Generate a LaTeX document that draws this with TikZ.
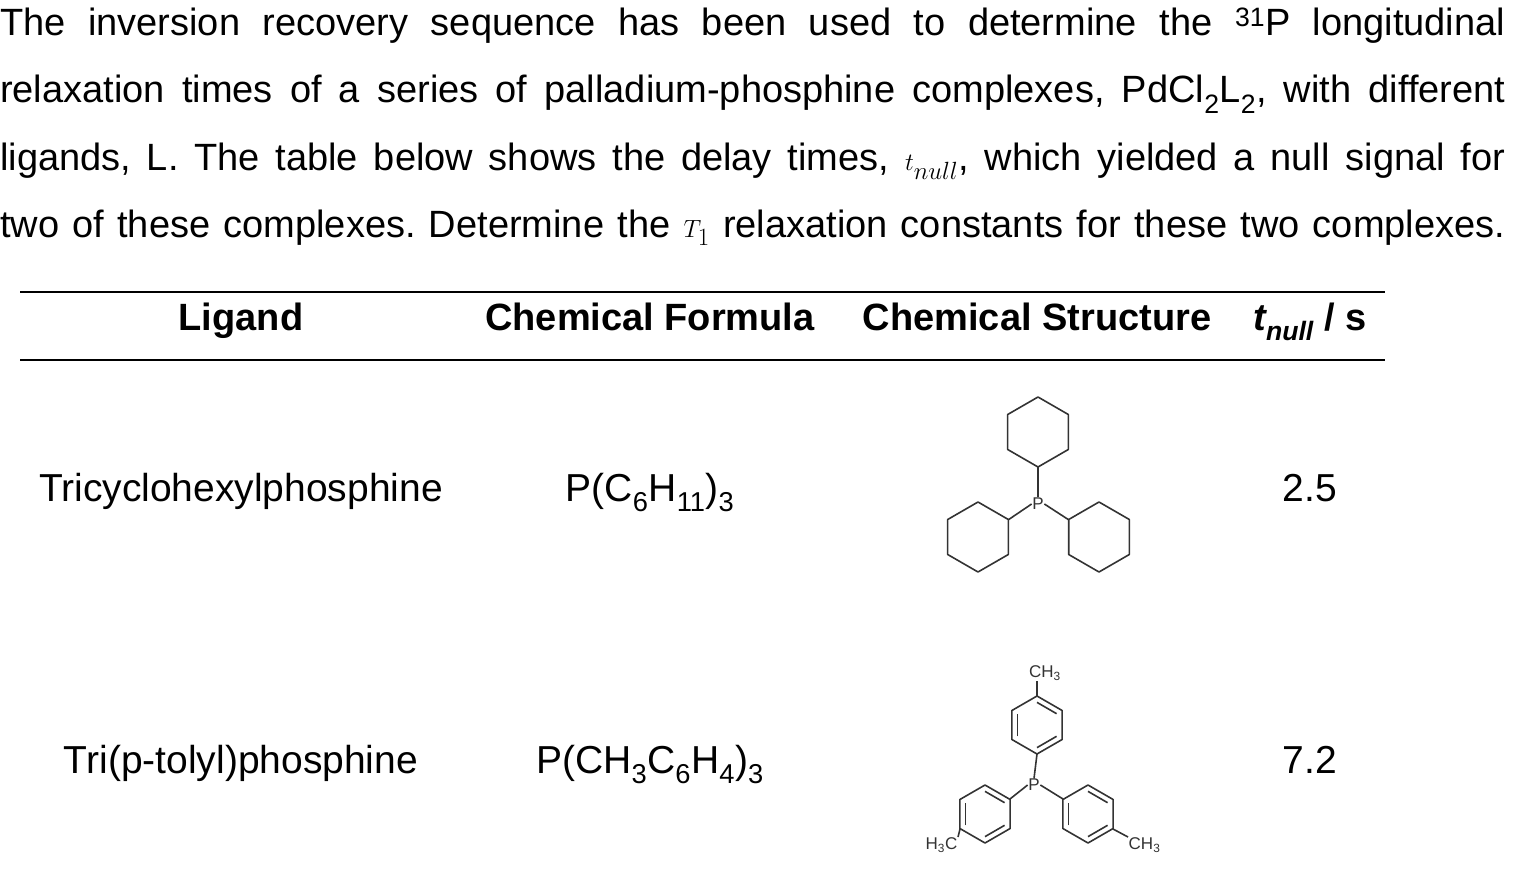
\documentclass[tikz,border=0pt]{standalone}
\usepackage{fontspec}
\setmainfont{Liberation Sans}
\usetikzlibrary{calc}
\frenchspacing
\newcommand{\cyhex}[3]{\draw[ring] ($(#1,#2)+(-90:#3)$) -- ($(#1,#2)+(-30:#3)$) -- ($(#1,#2)+(30:#3)$) -- ($(#1,#2)+(90:#3)$) -- ($(#1,#2)+(150:#3)$) -- ($(#1,#2)+(210:#3)$) -- cycle;}
\newcommand{\arhex}[3]{\cyhex{#1}{#2}{#3}
 \foreach \a/\b in {-90/-30,30/90,150/210}{
  \draw[ring] ($(#1,#2)!0.78!($(#1,#2)+(\a:#3)$)$) -- ($(#1,#2)!0.78!($(#1,#2)+(\b:#3)$)$);}}
\begin{document}
\begin{tikzpicture}[x=1pt,y=-1pt,
 txt/.style={inner sep=0pt,anchor=base,font=\fontsize{39}{44}\selectfont},
 hd/.style={txt,font=\fontsize{38}{44}\selectfont\bfseries},
 para/.style={inner sep=0pt,text width=1505pt,align=justify,anchor=base west,font=\fontsize{38}{44}\selectfont},
 ring/.style={line width=1.6pt,draw=black!80,line join=round},
 lab/.style={inner sep=0.5pt,font=\fontsize{17}{19}\selectfont,text=black!80}]
\useasboundingbox (0,0) rectangle (1540,896);
\node[para] (l1) at (0,36) {The inversion recovery sequence has been used to determine the \textsuperscript{31}P longitudinal\parfillskip=0pt\par};
\node[para] (l2) at (0,103) {relaxation times of a series of palladium-phosphine complexes, PdCl\textsubscript{2}L\textsubscript{2}, with different\parfillskip=0pt\par};
\node[para] (l3) at (0,171) {ligands, L. The table below shows the delay times, $t_{null}$, which yielded a null signal for\parfillskip=0pt\par};
\node[para] (l4) at (0,238) {two of these complexes. Determine the $T_1$ relaxation constants for these two complexes.\parfillskip=0pt\par};
\draw[line width=1.3pt] (20,292) coordinate (t1) -- (1385,292) coordinate (t2);
\draw[line width=1.3pt] (20,360) coordinate (t3) -- (1385,360) coordinate (t4);
\node[hd] (h1) at (241,330) {Ligand};
\node[hd] (h2) at (650,330) {Chemical Formula};
\node[hd] (h3) at (1037,330) {Chemical Structure};
\node[hd] (h4) at (1310,330) {\textit{t\textsubscript{null}} / s};
\node[txt] (a1) at (241,501) {Tricyclohexylphosphine};
\node[txt] (b1) at (650,501) {P(C\textsubscript{6}H\textsubscript{11})\textsubscript{3}};
\node[txt] (d1) at (1310,501) {2.5};
\node[txt] (a2) at (241,773) {Tri(p-tolyl)phosphine};
\node[txt] (b2) at (650,773) {P(CH\textsubscript{3}C\textsubscript{6}H\textsubscript{4})\textsubscript{3}};
\node[txt] (d2) at (1310,773) {7.2};
% structure 1
\node[lab] (p1) at (1038,504) {P};
\cyhex{1038}{432}{35}
\cyhex{978}{537}{35}
\cyhex{1099}{537}{35}
\coordinate (v1) at (1038,467);
\coordinate (v2) at (1008,520);
\coordinate (v3) at (1069,520);
\draw[ring] (v1) -- (p1.north);
\draw[ring] (v2) -- (p1.west);
\draw[ring] (v3) -- (p1.east);
% structure 2
\node[lab] (p2) at (1034,785) {P};
\arhex{1037}{725}{29}
\arhex{985}{814}{29}
\arhex{1088}{814}{29}
\node[lab,anchor=south] (m1) at (1045,681) {CH\textsubscript{3}};
\node[lab,anchor=east] (m2) at (958,845) {H\textsubscript{3}C};
\node[lab,anchor=west] (m3) at (1128,845) {CH\textsubscript{3}};
\coordinate (w1) at (1037,754);
\coordinate (w2) at (1010,799);
\coordinate (w3) at (1063,799);
\coordinate (w4) at (1037,696);
\coordinate (w5) at (960,829);
\coordinate (w6) at (1113,829);
\draw[ring] (w1) -- (p2.north);
\draw[ring] (w2) -- (p2.west);
\draw[ring] (w3) -- (p2.east);
\draw[ring] (w4) -- (1037,681);
\draw[ring] (w5) -- (m2.north east);
\draw[ring] (w6) -- (m3.north west);
\end{tikzpicture}
\end{document}
